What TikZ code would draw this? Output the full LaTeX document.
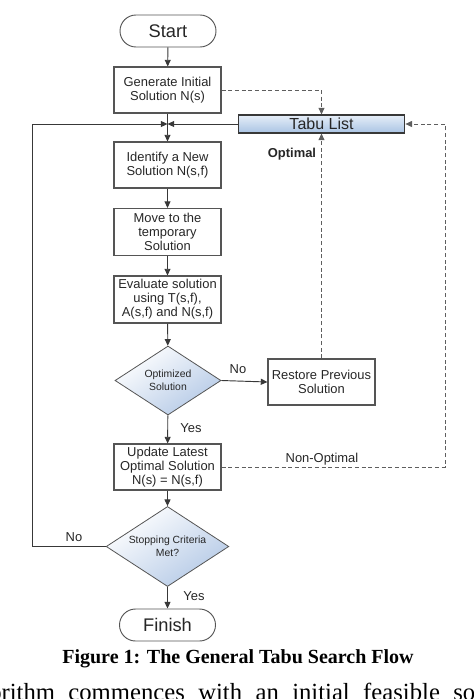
\documentclass[tikz,border=0pt]{standalone}
\usepackage{fontspec}
\setmainfont{Liberation Serif}
\newfontfamily\diagfont{Liberation Sans}
\usetikzlibrary{arrows.meta,shapes.geometric,shapes.misc}
\definecolor{LineGray}{HTML}{383838}
\definecolor{BoxGray}{HTML}{555555}
\definecolor{DashGray}{HTML}{5E5E5E}
\definecolor{InkGray}{HTML}{262626}
\definecolor{TabuTop}{HTML}{E6EEF8}
\definecolor{TabuBottom}{HTML}{A9C3E3}
\definecolor{DiaBlue}{HTML}{B4C9E6}

\begin{document}
\begin{tikzpicture}[x=0.75pt,y=-0.75pt,>={Triangle[length=5pt,width=4.5pt]},
  every node/.style={font=\diagfont\fontsize{9.7}{10.5}\selectfont,text=InkGray},
  terminal/.style={rounded rectangle,draw=BoxGray,line width=0.7pt,fill=white,minimum width=72pt,minimum height=24pt,inner sep=0pt,font=\diagfont\fontsize{13.7}{15}\selectfont},
  process/.style={rectangle,draw=BoxGray,line width=0.8pt,minimum width=80.25pt,minimum height=34.5pt,align=center,inner sep=1pt},
  tabubox/.style={rectangle,draw=LineGray,line width=0.8pt,top color=TabuTop,bottom color=TabuBottom,minimum width=125pt,minimum height=13.5pt,inner sep=0pt,font=\diagfont\fontsize{12}{13}\selectfont},
  decision/.style={diamond,draw=BoxGray,line width=0.6pt,aspect=1.55,inner sep=0pt,align=center,top color=white,bottom color=DiaBlue,shading angle=35,font=\diagfont\fontsize{7.8}{9.5}\selectfont},
  flow/.style={->,LineGray,line width=0.7pt},
  feedback/.style={->,DashGray,line width=0.6pt,dash pattern=on 3pt off 2pt},
  tag/.style={inner sep=1pt}]
  \useasboundingbox (0,0) rectangle (474,699);

  % main column
  \node[terminal] (start) at (168,31) {Start};
  \node[process] (gen) at (167.5,90) {Generate Initial\\Solution N(s)};
  \node[tabubox] (tabu) at (321.5,124) {Tabu List};
  \node[process] (ident) at (167.5,165) {Identify a New\\Solution N(s,f)};
  \node[process,minimum height=35.25pt] (move) at (167.5,232) {Move to the\\temporary\\Solution};
  \node[process,minimum height=35.25pt] (eval) at (167.5,299.5) {Evaluate solution\\using T(s,f),\\A(s,f) and N(s,f)};
  \node[decision,minimum width=79.5pt,minimum height=51.75pt] (opt) at (168,380.5) {Optimized\\Solution};
  \node[process] (restore) at (321.5,382) {Restore Previous\\Solution};
  \node[process] (update) at (167.5,467) {Update Latest\\Optimal Solution\\N(s) = N(s,f)};
  \node[decision,minimum width=92pt,minimum height=60pt] (stop) at (167.5,546.5) {Stopping Criteria\\Met?};
  \node[terminal] (finish) at (167.5,625) {Finish};

  \coordinate (join) at (gen.south |- tabu.west);
  \coordinate (leftrail) at (32,0);
  \coordinate (rightrail) at (445,0);

  \foreach \a/\b in {start/gen,gen/ident,ident/move,move/eval,eval/opt,opt/update,update/stop,stop/finish}
    \draw[flow] (\a) -- (\b);
  \draw[flow] (opt.east) -- (restore.west);
  \draw[flow] (tabu.west) -- (join);
  \draw[flow] (stop.west) -- (stop.west -| leftrail) |- (join);

  % dashed feedback into the tabu list
  \draw[feedback] (gen.east) -| (tabu.north);
  \draw[feedback] (restore.north) -- (tabu.south);
  \draw[feedback] (update.east) -- (update.east -| rightrail) |- (tabu.east);

  \node[tag] (nolbl) at (238,369) {No};
  \node[tag,font=\diagfont\bfseries\fontsize{9.7}{10.5}\selectfont] (optlbl) at (292,154) {Optimal};
  \node[tag] (yeslbl) at (191,428) {Yes};
  \node[tag] (nonoptlbl) at (322,459) {Non-Optimal};
  \node[tag] (nostoplbl) at (74,537) {No};
  \node[tag] (yesstoplbl) at (194,596) {Yes};

  \node[font=\rmfamily\bfseries\fontsize{15}{18}\selectfont,text=black] (caption) at (238,659) {Figure 1: The General Tabu Search Flow};
  \begin{scope}
    \clip (0,0) rectangle (474,699);
    \node[anchor=base west,inner sep=0pt,font=\rmfamily\fontsize{18.5}{22}\selectfont,text=black] (bodyline) at (-11,700)
      {\hbox to 384pt{orithm\hfill commences\hfill with\hfill an\hfill initial\hfill feasible\hfill solut}};
  \end{scope}
\end{tikzpicture}
\end{document}
